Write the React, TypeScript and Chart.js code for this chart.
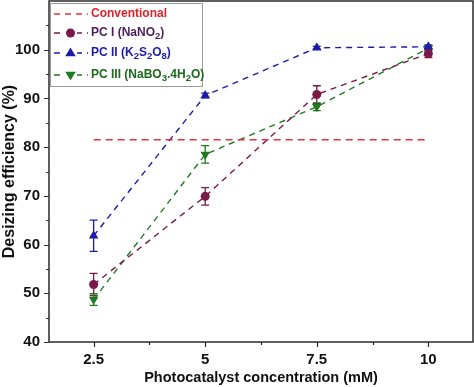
import React, { useEffect, useRef } from 'react';
import { Chart, registerables } from 'chart.js';

Chart.register(...registerables);

const concentrations = [2.5, 5, 7.5, 10];
const xTickLabels = ['2.5', '5', '7.5', '10'];
const xMinorTicks = [3.75, 6.25, 8.75];
const yTickValues = [40, 50, 60, 70, 80, 90, 100];
const yMinorTicks = [45, 55, 65, 75, 85, 95, 105];

const conventionalRange = [2.5, 10];
const conventionalValue = 81.5;
const pc1Values = [51.8, 69.9, 90.8, 99.2];
const pc1Errors = [2.3, 1.8, 1.8, 0.8];
const pc2Values = [61.8, 90.6, 100.4, 100.6];
const pc2Errors = [3.2, 0.5, 0.3, 0.4];
const pc3Values = [48.7, 78.5, 88.3, 100.3];
const pc3Errors = [1.2, 1.8, 0.8, 0.5];

const seriesLabels = ['Conventional', 'PC I (NaNO₂)', 'PC II (K₂S₂O₈)', 'PC III (NaBO₃.4H₂O)'];
const lineColors = ['#e8313a', '#7a1848', '#1c1caa', '#1f7a1f'];
const textColors = ['#e0202a', '#4a1f5c', '#1c1caa', '#1a6a1a'];
const markerStyles = [null, 'circle', 'triangle', 'triangle'];
const markerRotations = [0, 0, 0, 180];
const FONT = '"Liberation Sans", Arial, sans-serif';

const SUBS: Record<string, string> = { '₀': '0', '₁': '1', '₂': '2', '₃': '3', '₄': '4', '₅': '5', '₆': '6', '₇': '7', '₈': '8', '₉': '9' };

function drawMarker(ctx: CanvasRenderingContext2D, style: string | null, rot: number, x: number, y: number, color: string) {
  if (!style) return;
  ctx.fillStyle = color;
  ctx.beginPath();
  if (style === 'circle') {
    ctx.arc(x, y, 4.5, 0, Math.PI * 2);
  } else {
    const r = 5.5;
    const s = rot === 180 ? -1 : 1;
    ctx.moveTo(x, y - s * r);
    ctx.lineTo(x - r * 0.95, y + s * r * 0.6);
    ctx.lineTo(x + r * 0.95, y + s * r * 0.6);
    ctx.closePath();
  }
  ctx.fill();
}

const errorBarPlugin = {
  id: 'errorBars',
  beforeDatasetsDraw(chart: any) {
    const { ctx } = chart;
    const x = chart.scales.x;
    const y = chart.scales.y;
    chart.data.datasets.forEach((ds: any) => {
      if (!ds.errors) return;
      ctx.save();
      ctx.strokeStyle = ds.errorColor;
      ctx.lineWidth = 1.3;
      ds.data.forEach((p: any, i: number) => {
        const e = ds.errors[i];
        const px = x.getPixelForValue(p.x);
        const pt = y.getPixelForValue(p.y + e);
        const pb = y.getPixelForValue(p.y - e);
        ctx.beginPath();
        ctx.moveTo(px, pt);
        ctx.lineTo(px, pb);
        ctx.moveTo(px - 4, pt);
        ctx.lineTo(px + 4, pt);
        ctx.moveTo(px - 4, pb);
        ctx.lineTo(px + 4, pb);
        ctx.stroke();
      });
      ctx.restore();
    });
  },
};

const framePlugin = {
  id: 'frame',
  afterDraw(chart: any) {
    const { ctx, chartArea } = chart;
    const { left, top, right, bottom } = chartArea;
    const x = chart.scales.x;
    const y = chart.scales.y;
    ctx.save();
    ctx.strokeStyle = '#2b2b2b';
    ctx.lineWidth = 1.5;
    ctx.strokeRect(left, top, right - left, bottom - top);
    ctx.beginPath();
    concentrations.forEach((v) => {
      const px = Math.round(x.getPixelForValue(v)) + 0.5;
      ctx.moveTo(px, bottom);
      ctx.lineTo(px, bottom + 5);
    });
    xMinorTicks.forEach((v) => {
      const px = Math.round(x.getPixelForValue(v)) + 0.5;
      ctx.moveTo(px, bottom);
      ctx.lineTo(px, bottom + 3);
    });
    yTickValues.forEach((v) => {
      const py = Math.round(y.getPixelForValue(v)) + 0.5;
      ctx.moveTo(left, py);
      ctx.lineTo(left - 5, py);
    });
    yMinorTicks.forEach((v) => {
      const py = Math.round(y.getPixelForValue(v)) + 0.5;
      ctx.moveTo(left, py);
      ctx.lineTo(left - 3, py);
    });
    ctx.lineWidth = 1.2;
    ctx.stroke();

    // legend
    const bx = 50.5, by = 3.5, bw = 152, bh = 83;
    ctx.fillStyle = '#ffffff';
    ctx.fillRect(bx, by, bw, bh);
    ctx.strokeStyle = '#9a9a9a';
    ctx.lineWidth = 1;
    ctx.strokeRect(bx, by, bw, bh);
    const rows = [14, 33, 53, 75];
    seriesLabels.forEach((label, i) => {
      const ry = rows[i];
      ctx.save();
      ctx.strokeStyle = lineColors[i];
      ctx.lineWidth = 1.5;
      ctx.setLineDash([6, 5]);
      ctx.beginPath();
      ctx.moveTo(54, ry);
      ctx.lineTo(88, ry);
      ctx.stroke();
      ctx.restore();
      if (markerStyles[i]) {
        ctx.fillStyle = '#ffffff';
        ctx.fillRect(64, ry - 6, 13, 12);
        drawMarker(ctx, markerStyles[i], markerRotations[i], 70.5, ry, lineColors[i]);
      }
      let tx = 91;
      ctx.fillStyle = textColors[i];
      ctx.textBaseline = 'middle';
      ctx.textAlign = 'left';
      for (const ch of label) {
        if (SUBS[ch]) {
          ctx.font = `bold 9.5px ${FONT}`;
          ctx.fillText(SUBS[ch], tx, ry + 3.5);
          tx += ctx.measureText(SUBS[ch]).width;
        } else {
          ctx.font = `bold 12px ${FONT}`;
          ctx.fillText(ch, tx, ry);
          tx += ctx.measureText(ch).width;
        }
      }
    });
    ctx.restore();
  },
};

export default function App() {
  const ref = useRef<HTMLCanvasElement | null>(null);
  useEffect(() => {
    if (!ref.current) return;
    const toPoints = (vals: number[]) => concentrations.map((c, i) => ({ x: c, y: vals[i] }));
    const series = [pc1Values, pc2Values, pc3Values];
    const errs = [pc1Errors, pc2Errors, pc3Errors];
    const datasets: any[] = [
      {
        label: seriesLabels[0],
        data: conventionalRange.map((c) => ({ x: c, y: conventionalValue })),
        borderColor: lineColors[0],
        borderWidth: 1.5,
        borderDash: [7, 5],
        pointRadius: 0,
        fill: false,
      },
    ];
    series.forEach((vals, k) => {
      const i = k + 1;
      datasets.push({
        label: seriesLabels[i],
        data: toPoints(vals),
        errors: errs[k],
        errorColor: lineColors[i],
        borderColor: lineColors[i],
        backgroundColor: lineColors[i],
        borderWidth: 1.4,
        borderDash: [6, 5],
        pointStyle: markerStyles[i],
        rotation: markerRotations[i],
        pointRadius: markerStyles[i] === 'circle' ? 4.5 : 5.5,
        pointBorderWidth: 0,
        fill: false,
      });
    });
    const zeroPad = (s: any) => {
      s.paddingTop = 0;
      s.paddingBottom = 0;
      s.paddingLeft = 0;
      s.paddingRight = 0;
    };
    const chart = new Chart(ref.current, {
      type: 'line',
      data: { datasets },
      options: {
        animation: false,
        responsive: false,
        layout: { autoPadding: false, padding: { top: 1, right: 1, left: 0, bottom: 0 } },
        plugins: { legend: { display: false }, tooltip: { enabled: false } },
        scales: {
          x: {
            type: 'linear',
            min: 1.5,
            max: 11,
            grid: { display: false, drawTicks: false },
            border: { display: false },
            afterBuildTicks: (s: any) => {
              s.ticks = concentrations.map((v) => ({ value: v }));
            },
            afterFit: (s: any) => {
              s.height = 45;
              zeroPad(s);
            },
            ticks: {
              padding: 9,
              color: '#111',
              font: { family: FONT, size: 15, weight: 'bold' },
              callback: (v: any) => {
                const idx = concentrations.indexOf(Number(v));
                return idx >= 0 ? xTickLabels[idx] : '';
              },
            },
            title: {
              display: true,
              text: 'Photocatalyst concentration (mM)',
              color: '#111',
              padding: 0,
              font: { family: FONT, size: 14.5, weight: 'bold', lineHeight: 1.2 },
            },
          },
          y: {
            type: 'linear',
            min: 40,
            max: 110,
            grid: { display: false, drawTicks: false },
            border: { display: false },
            afterBuildTicks: (s: any) => {
              s.ticks = yTickValues.map((v) => ({ value: v }));
            },
            afterFit: (s: any) => {
              s.width = 49;
              zeroPad(s);
            },
            ticks: {
              padding: 9,
              color: '#111',
              font: { family: FONT, size: 15, weight: 'bold' },
              callback: (v: any) => String(v),
            },
            title: {
              display: true,
              text: 'Desizing efficiency (%)',
              color: '#111',
              padding: 0,
              font: { family: FONT, size: 16, weight: 'bold', lineHeight: 1.15 },
            },
          },
        },
      },
      plugins: [errorBarPlugin, framePlugin],
    } as any);
    return () => chart.destroy();
  }, []);
  return (
    <div style={{ position: 'fixed', left: 0, top: 0, width: 474, height: 387, background: '#fff' }}>
      <canvas ref={ref} width={474} height={387} />
    </div>
  );
}
